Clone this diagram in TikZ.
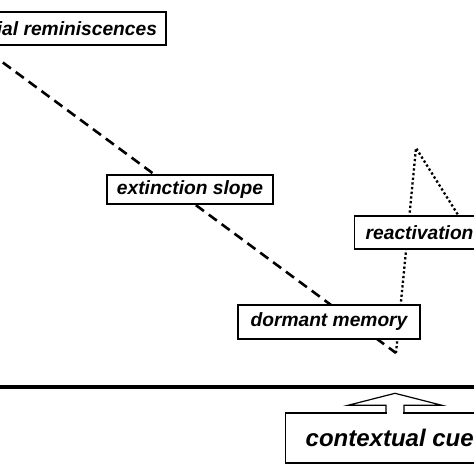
\documentclass[tikz,border=0pt]{standalone}
\usepackage{fontspec}
\setmainfont{Liberation Sans}
\usetikzlibrary{calc}

\tikzset{
  memobox/.style={draw, fill=white, line width=1.4pt, inner xsep=10pt, inner ysep=0pt,
    font=\bfseries\itshape\fontsize{19.2}{23}\selectfont},
  slopeline/.style={line width=2.6pt, dash pattern=on 10pt off 6pt},
  reactline/.style={line width=2.3pt, dash pattern=on 2.3pt off 2.4pt}
}

\begin{document}
\begin{tikzpicture}[x=1pt,y=-1pt]

	\useasboundingbox (0,0) rectangle (474,474);
	\clip (0,0) rectangle (474,474);

	% The curve
	\coordinate (start) at (-10,53);
	\coordinate (dip) at (396,353);
	\coordinate (peak) at (416,148);
	\coordinate (out) at (504,288);
	\draw[slopeline] (start) -- (dip);
	\draw[reactline] (dip) -- (peak) -- (out);

	% The boxes
	\node[memobox, anchor=east, line width=2pt, minimum height=33pt, inner xsep=9pt] (init) at (167,28.5) {initial reminiscences};
	\node[memobox, minimum width=166pt, minimum height=29pt] (ext) at (190,189.5) {extinction slope};
	\node[memobox, minimum width=182pt, minimum height=34pt] (dorm) at (329,322) {dormant memory};
	\node[memobox, anchor=west, minimum height=33pt, inner xsep=11pt] (react) at (354,232.5) {reactivation};

	% The base line
	\draw[line width=4pt] (-5,387) -- (480,387);

	% The cue and its arrow
	\node[memobox, anchor=west, minimum height=50pt, inner xsep=20pt,
	  font=\bfseries\itshape\fontsize{24}{28}\selectfont] (cue) at (285,438) {contextual cue};
	\coordinate (stemL) at ($(cue.north west)+(101,0)$);
	\coordinate (stemR) at ($(cue.north west)+(119,0)$);
	\coordinate (tip) at ($(cue.north west)+(110,-19)$);
	\fill[white] ($(stemL)+(1,-2)$) rectangle ($(stemR)+(-1,2)$);
	\draw[line width=1.2pt] (stemL) -- ++(0,-7) -- ++(-38,0) -- (tip) -- ($(stemR)+(38,-7)$) -- ++(-38,0) -- (stemR);

\end{tikzpicture}
\end{document}
